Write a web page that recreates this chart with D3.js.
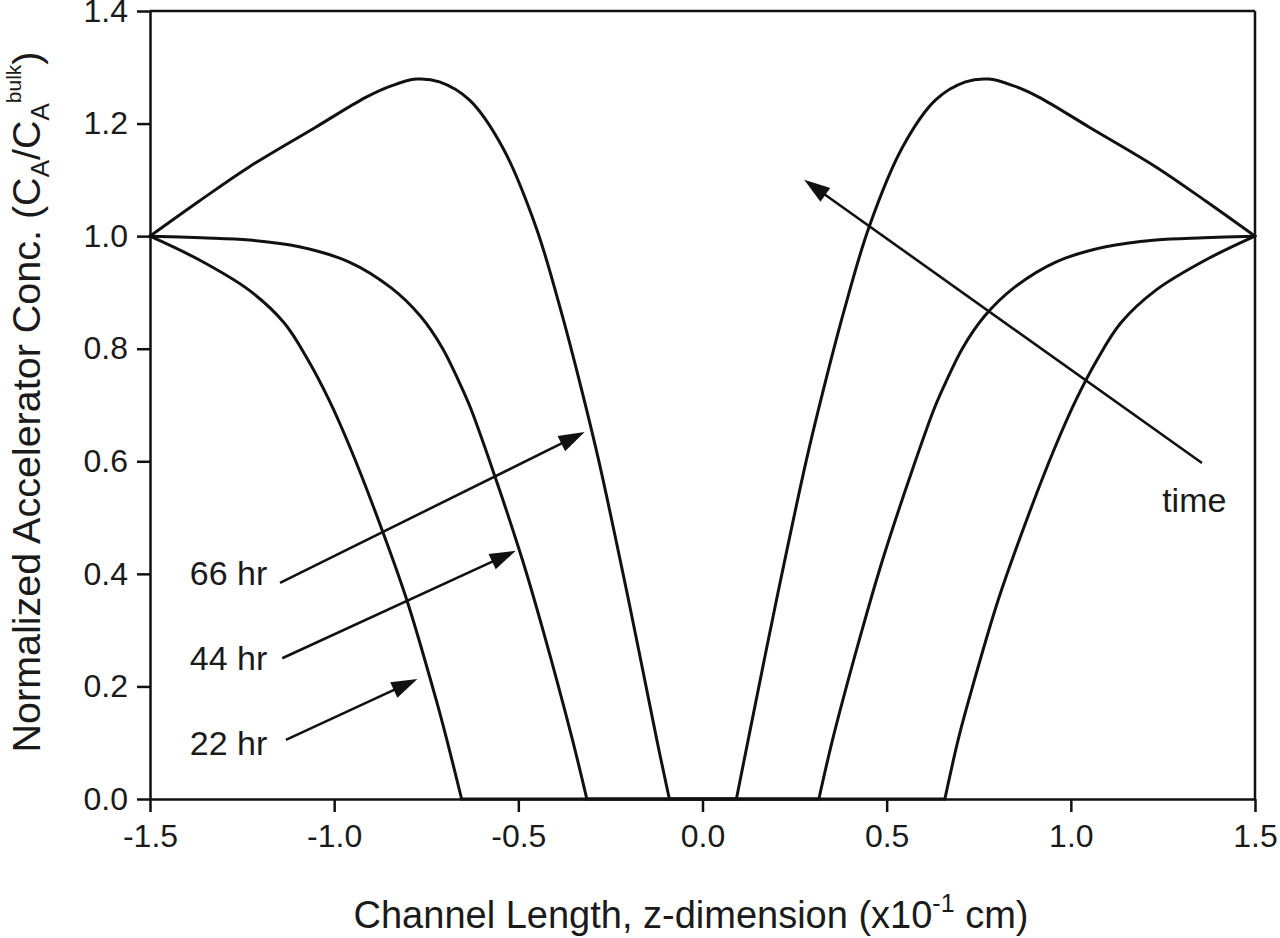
<!DOCTYPE html>
<html>
<head>
<meta charset="utf-8">
<script src="https://cdn.jsdelivr.net/npm/d3@7/dist/d3.min.js"></script>
<style>
  html, body { margin: 0; padding: 0; background: #fff; }
  svg { display: block; }
  text { font-family: "Liberation Sans", Arial, Helvetica, sans-serif; fill: #1a1a1a; }
</style>
</head>
<body>
<svg id="chart" width="1280" height="938"></svg>
<script>
// ---------------- data ----------------
const xTicks = [-1.5, -1.0, -0.5, 0.0, 0.5, 1.0, 1.5];
const yTicks = [0.0, 0.2, 0.4, 0.6, 0.8, 1.0, 1.2, 1.4];

const hr22_x = [-1.5, -1.367, -1.231, -1.136, -1.071, -1.014, -0.954, -0.883, -0.803, -0.723, -0.694, -0.654,
                0.658, 0.694, 0.723, 0.803, 0.883, 0.954, 1.014, 1.071, 1.136, 1.231, 1.367, 1.5];
const hr22_y = [1.0, 0.958, 0.904, 0.846, 0.780, 0.709, 0.620, 0.501, 0.354, 0.176, 0.105, 0.0,
                0.0, 0.105, 0.176, 0.354, 0.501, 0.620, 0.709, 0.780, 0.846, 0.904, 0.958, 1.0];

const hr44_x = [-1.5, -1.361, -1.231, -1.095, -0.959, -0.845, -0.766, -0.706, -0.663, -0.630, -0.563, -0.489, -0.431, -0.353, -0.314,
                0.316, 0.353, 0.431, 0.489, 0.563, 0.630, 0.663, 0.706, 0.766, 0.845, 0.959, 1.095, 1.231, 1.361, 1.5];
const hr44_y = [1.0, 0.997, 0.993, 0.981, 0.954, 0.908, 0.858, 0.801, 0.744, 0.695, 0.572, 0.425, 0.295, 0.105, 0.0,
                0.0, 0.105, 0.295, 0.425, 0.572, 0.695, 0.744, 0.801, 0.858, 0.908, 0.954, 0.981, 0.993, 0.997, 1.0];

const hr66_x = [-1.5, -1.367, -1.231, -1.049, -0.913, -0.845, -0.777, -0.714, -0.633, -0.543, -0.452, -0.385, -0.337, -0.282, -0.201, -0.124, -0.090,
                0.092, 0.124, 0.201, 0.282, 0.337, 0.385, 0.452, 0.543, 0.633, 0.714, 0.777, 0.845, 0.913, 1.049, 1.231, 1.367, 1.5];
const hr66_y = [1.0, 1.062, 1.123, 1.194, 1.247, 1.267, 1.279, 1.274, 1.242, 1.158, 1.016, 0.869, 0.750, 0.602, 0.354, 0.105, 0.0,
                0.0, 0.105, 0.354, 0.602, 0.750, 0.869, 1.016, 1.158, 1.242, 1.274, 1.279, 1.267, 1.247, 1.194, 1.123, 1.062, 1.0];

const seriesNames = ["22 hr", "44 hr", "66 hr"];

// annotation arrows, in data units (tail -> tip)
const arrowNames = ["22 hr", "44 hr", "66 hr", "time"];
const arrowTail_x = [-1.131, -1.141, -1.147, 1.356];
const arrowTail_y = [0.105, 0.250, 0.384, 0.597];
const arrowTip_x  = [-0.774, -0.507, -0.320, 0.276];
const arrowTip_y  = [0.213, 0.441, 0.652, 1.100];

// annotation labels (text start, baseline), data units
const labelText = ["66 hr", "44 hr", "22 hr", "time"];
const label_x = [-1.392, -1.392, -1.392, 1.248];
const label_y = [0.380, 0.229, 0.078, 0.510];

// ---------------- layout ----------------
const W = 1280, H = 938;
const margin = { left: 150, right: 25, top: 11, bottom: 139 };
const svg = d3.select("#chart");
const x = d3.scaleLinear().domain([-1.5, 1.5]).range([margin.left, W - margin.right]);
const y = d3.scaleLinear().domain([0, 1.4]).range([H - margin.bottom, margin.top]);
const ink = "#111";

// curves: smooth on each side, straight along the zero plateau
const series = [
  { name: seriesNames[0], xs: hr22_x, ys: hr22_y },
  { name: seriesNames[1], xs: hr44_x, ys: hr44_y },
  { name: seriesNames[2], xs: hr66_x, ys: hr66_y }
];
const smooth = d3.line().x(d => x(d[0])).y(d => y(d[1])).curve(d3.curveCatmullRom.alpha(0.5));
const g = svg.append("g");
series.forEach(s => {
  const pts = s.xs.map((v, i) => [v, s.ys[i]]);
  const z0 = pts.findIndex(p => p[1] === 0);
  let z1 = z0; while (z1 + 1 < pts.length && pts[z1 + 1][1] === 0) z1++;
  const pieces = [pts.slice(0, z0 + 1), pts.slice(z0, z1 + 1), pts.slice(z1)];
  pieces.forEach(pc => {
    g.append("path").attr("d", smooth(pc))
      .attr("fill", "none").attr("stroke", ink).attr("stroke-width", 3)
      .attr("stroke-linejoin", "round").attr("stroke-linecap", "round");
  });
});

// frame (top and right)
svg.append("line").attr("x1", x(-1.5)).attr("x2", x(1.5)).attr("y1", y(1.4)).attr("y2", y(1.4))
  .attr("stroke", ink).attr("stroke-width", 2.5);
svg.append("line").attr("x1", x(1.5)).attr("x2", x(1.5)).attr("y1", y(0)).attr("y2", y(1.4))
  .attr("stroke", ink).attr("stroke-width", 2.5);

// axes
const fmt = d => d.toFixed(1);
const xAxis = svg.append("g").attr("transform", `translate(0,${y(0)})`)
  .call(d3.axisBottom(x).tickValues(xTicks).tickFormat(fmt).tickSize(13).tickPadding(9).tickSizeOuter(0));
const yAxis = svg.append("g").attr("transform", `translate(${x(-1.5)},0)`)
  .call(d3.axisLeft(y).tickValues(yTicks).tickFormat(fmt).tickSize(13).tickPadding(9).tickSizeOuter(0));
[xAxis, yAxis].forEach(a => {
  a.select(".domain").attr("stroke", ink).attr("stroke-width", 2.5);
  a.selectAll(".tick line").attr("stroke", ink).attr("stroke-width", 2.5);
  a.selectAll(".tick text").attr("font-size", 32).attr("fill", "#1a1a1a")
    .attr("font-family", '"Liberation Sans", Arial, sans-serif');
});
xAxis.selectAll(".tick text").attr("dy", "0.8em");

// arrows
const ag = svg.append("g");
arrowNames.forEach((n, i) => {
  const x0 = x(arrowTail_x[i]), y0 = y(arrowTail_y[i]), x1 = x(arrowTip_x[i]), y1 = y(arrowTip_y[i]);
  const dx = x1 - x0, dy = y1 - y0, L = Math.hypot(dx, dy);
  const ux = dx / L, uy = dy / L, hl = 26, hw = 8.5;
  const bx = x1 - ux * hl, by = y1 - uy * hl;
  ag.append("line").attr("x1", x0).attr("y1", y0).attr("x2", bx + ux * 2).attr("y2", by + uy * 2)
    .attr("stroke", ink).attr("stroke-width", 2.6);
  ag.append("path")
    .attr("d", `M${x1},${y1}L${bx - uy * hw},${by + ux * hw}L${bx + uy * hw},${by - ux * hw}Z`)
    .attr("fill", ink);
});

// labels
svg.append("g").selectAll("text").data(labelText).join("text")
  .attr("x", (d, i) => x(label_x[i])).attr("y", (d, i) => y(label_y[i]))
  .attr("font-size", 34).text(d => d);

// x axis title
const xt = svg.append("text").attr("x", 691).attr("y", 928).attr("text-anchor", "middle").attr("font-size", 38);
xt.append("tspan").text("Channel Length, z-dimension (x10");
xt.append("tspan").attr("font-size", 25).attr("dy", -16).text("-1");
xt.append("tspan").attr("dy", 16).text(" cm)");

// y axis title
const yt = svg.append("text").attr("transform", "translate(40,402) rotate(-90)")
  .attr("text-anchor", "middle").attr("font-size", 39.5);
yt.append("tspan").text("Normalized Accelerator Conc. (C");
yt.append("tspan").attr("font-size", 26).attr("dy", 9).text("A");
yt.append("tspan").attr("dy", -9).text("/C");
yt.append("tspan").attr("font-size", 26).attr("dy", 9).text("A");
yt.append("tspan").attr("font-size", 21).attr("dy", -28).text("bulk");
yt.append("tspan").attr("dy", 19).text(")");
</script>
</body>
</html>
